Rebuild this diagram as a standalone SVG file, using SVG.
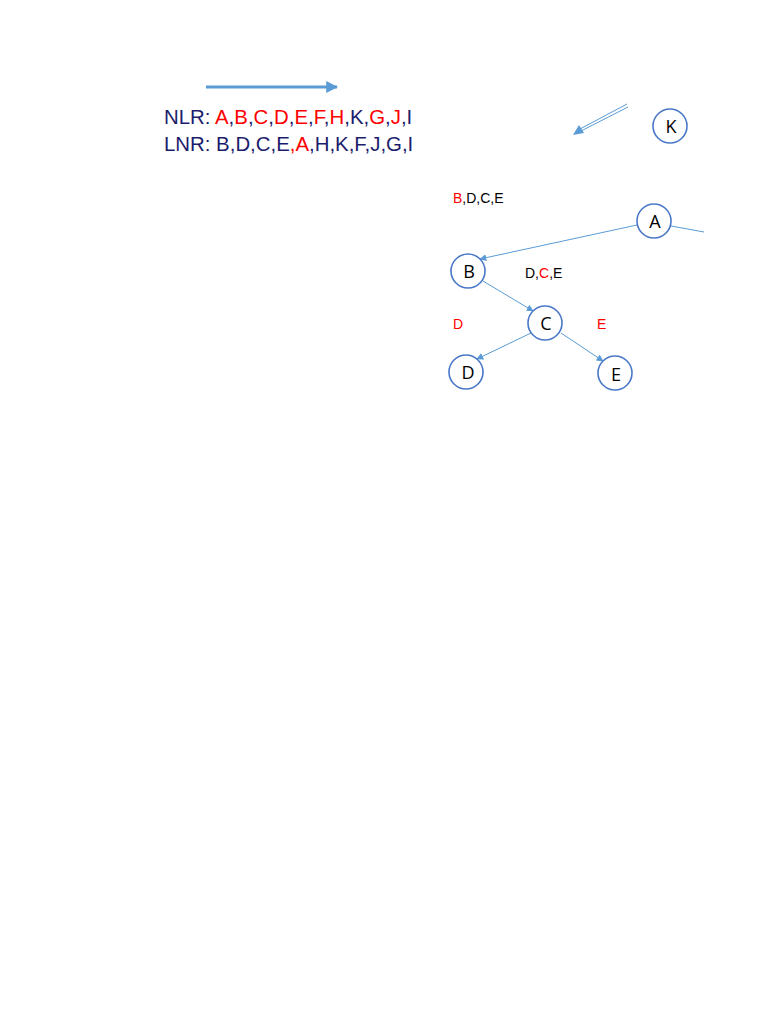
<svg xmlns="http://www.w3.org/2000/svg" width="768" height="1024" viewBox="0 0 768 1024">
<style>
.seq{font-family:"Liberation Sans",Arial,sans-serif;font-size:20.4px;fill:#1c1c6c}
.r{fill:#ff0000}
.lbl{font-family:"Liberation Sans",Arial,sans-serif;font-size:14px;fill:#000}
.lbl.red{fill:#ff0000}
.node circle{fill:#fff;stroke:#4a78c8;stroke-width:1.6}
.node text{font-family:"Open Sans","Liberation Sans",sans-serif;font-size:18px;fill:#000;text-anchor:middle}
.edge{stroke:#5b9bd5;stroke-width:1;fill:none}
</style>
<defs>
<marker id="ah" viewBox="0 0 10 10" refX="9" refY="5" markerWidth="7" markerHeight="7" orient="auto" markerUnits="userSpaceOnUse">
<path d="M0,0 L10,5 L0,10 z" fill="#5b9bd5"/>
</marker>
<marker id="ahBig" viewBox="0 0 10 10" refX="9" refY="5" markerWidth="4" markerHeight="4" orient="auto">
<path d="M0,0 L10,5 L0,10 z" fill="#5b9bd5"/>
</marker>
</defs>
<text class="seq" x="164" y="124">NLR: <tspan class="r">A</tspan>,<tspan class="r">B</tspan>,<tspan class="r">C</tspan>,<tspan class="r">D</tspan>,<tspan class="r">E</tspan>,<tspan class="r">F</tspan>,<tspan class="r">H</tspan>,K,<tspan class="r">G</tspan>,<tspan class="r">J</tspan>,I</text>
<text class="seq" x="164" y="151">LNR: B,D,C,E<tspan class="r">,A</tspan>,H,K,F,J,G,I</text>
<text class="lbl" x="453" y="203"><tspan class="r">B</tspan>,D,C,E</text>
<text class="lbl" x="525" y="278">D,<tspan class="r">C</tspan>,E</text>
<text class="lbl red" x="453" y="329">D</text>
<text class="lbl red" x="597" y="329">E</text>
<g id="connectors">
<line x1="206" y1="87" x2="337" y2="87" stroke="#5b9bd5" stroke-width="3" marker-end="url(#ahBig)"/>
<line class="edge" x1="627" y1="104" x2="580" y2="129"/>
<line class="edge" x1="628" y1="107" x2="581" y2="131"/>
<path d="M573,135 L579,125 L584,133 z" fill="#5b9bd5"/>
<line class="edge" x1="637" y1="225" x2="480" y2="259" marker-end="url(#ah)"/>
<line class="edge" x1="671" y1="226" x2="704" y2="232"/>
<line class="edge" x1="483" y1="281" x2="533" y2="311" marker-end="url(#ah)"/>
<line class="edge" x1="531" y1="333" x2="477" y2="359" marker-end="url(#ah)"/>
<line class="edge" x1="561" y1="333" x2="603" y2="361" marker-end="url(#ah)"/>
</g>
<g id="node-K" class="node"><circle cx="670" cy="126" r="17"/><text x="671" y="133">K</text></g>
<g id="node-A" class="node"><circle cx="654" cy="221" r="17"/><text x="655" y="228">A</text></g>
<g id="node-B" class="node"><circle cx="468" cy="271" r="17"/><text x="469" y="278">B</text></g>
<g id="node-C" class="node"><circle cx="545" cy="323" r="17"/><text x="546" y="330">C</text></g>
<g id="node-D" class="node"><circle cx="466" cy="372" r="17"/><text x="468" y="379">D</text></g>
<g id="node-E" class="node"><circle cx="615" cy="373" r="17"/><text x="616" y="381">E</text></g>
</svg>
